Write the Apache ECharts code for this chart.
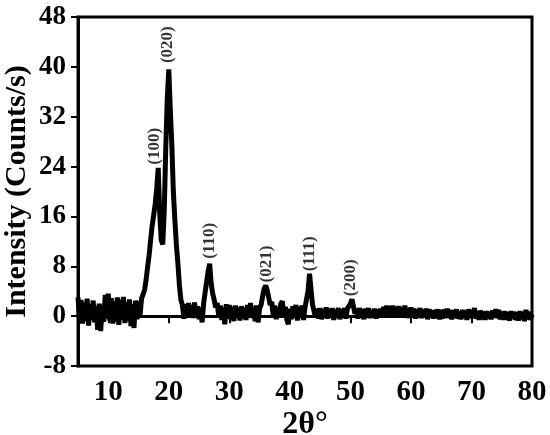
<!DOCTYPE html>
<html>
<head>
<meta charset="utf-8">
<script src="https://cdn.jsdelivr.net/npm/echarts@6/dist/echarts.min.js"></script>
<style>
  html, body { margin: 0; padding: 0; background: #fff; }
  #main { width: 550px; height: 435px; }
</style>
</head>
<body>
<div id="main"></div>
<script>
// scan grid: 2theta from 5 to 80 deg, one reading every 0.25 deg
var twoThetaStart = 5
var twoThetaStep = 0.25
// intensity readings, 20 per row (5 deg per row)
var intensity = [
  3.0, -0.5, 2.6, -1.2, 2.2, -0.8, 2.8, -1.5, 1.9, -0.6, 2.5, -1.0, 1.6, -2.2, 2.0, -2.4, 1.8, -0.9, 3.4, -0.4,
  3.6, -0.7, 2.9, -1.2, 2.4, -0.9, 3.0, -1.4, 2.6, -0.6, 3.1, -1.1, 2.2, -0.8, 2.7, -1.6, 1.9, -1.9, 2.5, -0.5,
  2.4, 0.2, 2.8, 3.0, 4.2, 5.8, 7.9, 9.8, 12.2, 14.5, 16.2, 18.0, 20.5, 23.8, 16.5, 12.2, 11.5, 17.0, 27.0, 35.0,
  39.6, 33.0, 27.5, 20.0, 15.5, 11.5, 8.5, 5.0, 2.6, 1.8, -0.4, 1.9, -0.2, 2.1, 0.0, 1.8, -0.3, 2.2, 0.1, 1.6,
  -0.5, 1.4, -1.0, 2.0, 3.8, 5.5, 7.2, 8.4, 5.2, 3.6, 2.6, 1.4, 2.1, 0.0, 1.7, -0.6, 1.4, -1.3, 1.9, -0.4,
  1.8, -0.5, 1.5, -0.8, 1.7, -0.2, 1.4, -0.7, 1.6, -0.4, 1.3, -0.6, 1.8, -0.1, 2.1, -0.3, 1.5, -0.8, 1.7, -1.0,
  1.3, 1.8, 3.2, 4.4, 4.9, 4.2, 3.0, 1.8, 2.3, 0.1, 1.7, -0.5, 1.4, -0.2, 2.0, 2.4, 0.2, 1.5, -0.6, -1.3,
  1.2, -0.5, 1.6, -0.2, 1.8, -0.7, 1.5, 0.0, 1.7, -0.6, 1.4, 1.6, 4.0, 6.8, 4.2, 1.8, 1.5, -0.2, 1.2, -0.4,
  1.3, -0.5, 1.1, -0.1, 1.4, -0.4, 1.2, -0.2, 1.3, -0.6, 1.0, 0.0, 1.3, -0.5, 1.1, -0.1, 1.3, -0.4, 1.2, 1.4,
  2.0, 2.7, 1.6, 0.4, 1.2, -0.4, 1.3, -0.1, 1.1, -0.5, 1.2, 0.0, 1.3, -0.3, 1.0, -0.2, 1.2, -0.4, 1.1, 0.1,
  1.2, -0.2, 1.5, 0.0, 1.7, 0.1, 1.6, -0.1, 1.7, 0.2, 1.5, -0.2, 1.6, 0.1, 1.4, -0.1, 1.7, 0.0, 1.3, -0.3,
  1.4, -0.2, 1.2, -0.4, 1.1, -0.1, 1.3, -0.3, 1.0, -0.2, 1.2, -0.5, 1.1, -0.1, 0.9, -0.4, 1.0, -0.3, 1.1, -0.5,
  0.9, -0.4, 1.1, -0.2, 1.2, -0.3, 1.0, -0.5, 0.9, -0.2, 1.1, -0.4, 0.8, -0.5, 1.0, -0.3, 0.9, -0.6, 1.1, -0.3,
  1.0, -0.1, 1.3, -0.4, 0.8, -0.6, 0.9, -0.5, 0.7, -0.6, 0.8, -0.4, 0.7, -0.5, 0.9, -0.2, 1.1, -0.3, 1.0, -0.5,
  0.7, -0.6, 0.8, -0.5, 0.6, -0.7, 0.8, -0.4, 0.7, -0.6, 0.6, -0.7, 0.8, -0.5, 0.7, -0.8, 1.0, -0.5, 0.7, -0.6,
  0.3
]

// peak labels (hkl) and where their text starts
var peakNames = ['(100)', '(020)', '(110)', '(021)', '(111)', '(200)']
var peakX = [17.6, 19.8, 26.7, 36.2, 43.3, 50.1]
var peakY = [24.3, 40.6, 9.2, 5.4, 7.2, 3.2]

var xTicks = [10, 20, 30, 40, 50, 60, 70, 80]

var scan = intensity.map(function (v, i) {
  return [twoThetaStart + i * twoThetaStep, v]
})
var peaks = peakNames.map(function (n, i) {
  return { name: n, value: [peakX[i], peakY[i]] }
})

var font = 'Liberation Serif, Times New Roman, serif'
var chart = echarts.init(document.getElementById('main'))
chart.setOption({
  animation: false,
  grid: {
    left: 78,
    right: 18,
    top: 17,
    bottom: 69,
    containLabel: false,
    outerBoundsMode: 'none',
    show: true,
    borderColor: '#000',
    borderWidth: 3
  },
  xAxis: {
    type: 'value',
    min: 5,
    max: 80,
    name: '2θ°',
    nameLocation: 'middle',
    nameGap: 43,
    nameMoveOverlap: false,
    nameTextStyle: { fontFamily: font, fontWeight: 'bold', fontSize: 32, color: '#000' },
    axisLine: { lineStyle: { color: '#000', width: 3 } },
    axisTick: { customValues: xTicks, length: 7, lineStyle: { color: '#000', width: 2 } },
    axisLabel: {
      customValues: xTicks,
      margin: 12,
      fontFamily: font,
      fontWeight: 'bold',
      fontSize: 29,
      color: '#000'
    },
    splitLine: { show: false }
  },
  yAxis: {
    type: 'value',
    min: -8,
    max: 48,
    interval: 8,
    name: 'Intensity (Counts/s)',
    nameLocation: 'middle',
    nameGap: 46,
    nameMoveOverlap: false,
    nameTextStyle: { fontFamily: font, fontWeight: 'bold', fontSize: 30, color: '#000' },
    axisLine: { show: true, lineStyle: { color: '#000', width: 3 } },
    axisTick: { show: true, length: 7, lineStyle: { color: '#000', width: 2 } },
    axisLabel: {
      margin: 12,
      fontFamily: font,
      fontWeight: 'bold',
      fontSize: 27,
      color: '#000'
    },
    splitLine: { show: false }
  },
  series: [
    {
      type: 'line',
      data: scan,
      showSymbol: false,
      lineStyle: { color: '#000', width: 5 },
      z: 3
    },
    {
      type: 'scatter',
      data: peaks,
      symbolSize: 0,
      label: {
        show: true,
        position: 'top',
        distance: 0,
        rotate: 90,
        align: 'left',
        verticalAlign: 'middle',
        formatter: '{b}',
        fontFamily: font,
        fontWeight: 'bold',
        fontSize: 17,
        color: '#000'
      },
      z: 4
    }
  ]
})
</script>
</body>
</html>
